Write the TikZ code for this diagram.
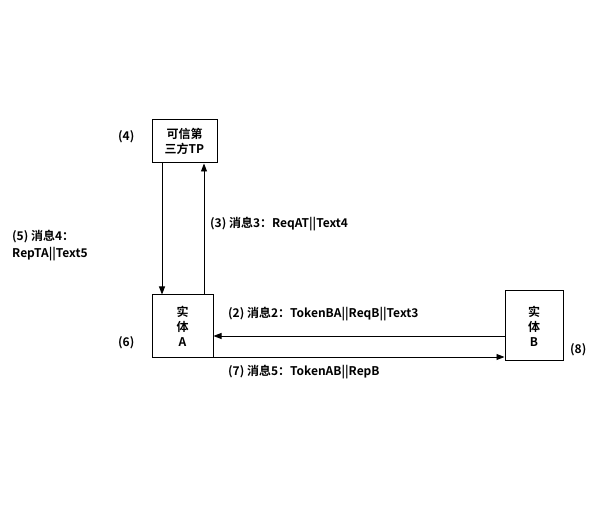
\documentclass[tikz,border=0pt]{standalone}
\usepackage{fontspec}
\setmainfont{Noto Sans CJK SC}[BoldFont={Noto Sans CJK SC Bold}]
\usetikzlibrary{arrows.meta}
\begin{document}
\begin{tikzpicture}[x=1pt,y=-1pt,
  box/.style={draw,line width=1pt,font=\bfseries\fontsize{12}{15}\selectfont,align=center,inner sep=0},
  lbl/.style={font=\bfseries\fontsize{12}{17}\selectfont,inner sep=0,anchor=west,align=left},
  arr/.style={line width=0.9pt,-{Triangle[length=8pt,width=6pt]}}]
\path[use as bounding box] (0,0) rectangle (606,529);
\node[box,minimum width=65pt,minimum height=43pt] (tp) at (184.5,141.5) {可信第\\三方TP};
\node[box,minimum width=61pt,minimum height=63pt] (a) at (182.5,326.5) {实\\体\\A};
\node[box,minimum width=58pt,minimum height=70pt] (b) at (534,326) {实\\体\\B};
\draw[arr] (tp.south -| 162,0) -- (a.north -| 162,0);
\draw[arr] (a.north -| 204,0) -- (tp.south -| 204,0);
\draw[arr] (b.west |- 0,336) -- (a.east |- 0,336);
\draw[arr] (a.east |- 0,357) -- (b.west |- 0,357);
\node[lbl] (l4) at (118,137) {(4)};
\node[lbl] (l3) at (210,224) {(3)\ 消息3：ReqAT||Text4};
\node[lbl] (l5) at (12,246) {(5)\ 消息4：\\RepTA||Text5};
\node[lbl] (l2) at (228,314) {(2)\ 消息2：TokenBA||ReqB||Text3};
\node[lbl] (l6) at (118,343) {(6)};
\node[lbl] (l7) at (228,372) {(7)\ 消息5：TokenAB||RepB};
\node[lbl] (l8) at (570,350) {(8)};
\end{tikzpicture}
\end{document}
